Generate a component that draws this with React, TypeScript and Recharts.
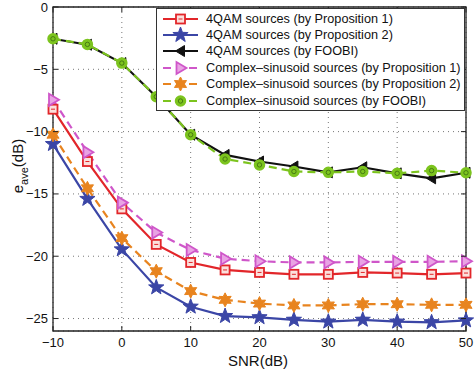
import React from "react";
import {
  LineChart,
  Line,
  XAxis,
  YAxis,
  CartesianGrid,
  ReferenceArea,
  Label,
} from "recharts";

const snr = [-10, -5, 0, 5, 10, 15, 20, 25, 30, 35, 40, 45, 50];
const qamProp1 = [-8.2, -12.4, -16.2, -19.05, -20.5, -21.1, -21.3, -21.45, -21.45, -21.3, -21.35, -21.45, -21.35];
const qamProp2 = [-11.0, -15.4, -19.45, -22.5, -24.05, -24.8, -24.9, -25.1, -25.25, -25.1, -25.25, -25.3, -25.15];
const qamFoobi = [-2.55, -3.03, -4.5, -7.2, -10.25, -11.87, -12.4, -12.8, -13.27, -12.86, -13.35, -13.75, -13.3];
const sinProp1 = [-7.45, -11.65, -15.7, -18.1, -19.5, -20.2, -20.4, -20.5, -20.5, -20.45, -20.45, -20.45, -20.4];
const sinProp2 = [-10.25, -14.55, -18.55, -21.2, -22.8, -23.5, -23.8, -23.95, -23.95, -23.85, -23.85, -23.9, -23.9];
const sinFoobi = [-2.55, -3.0, -4.5, -7.2, -10.25, -12.2, -12.67, -13.2, -13.27, -13.2, -13.35, -13.13, -13.3];

const xTicks = [-10, 0, 10, 20, 30, 40, 50];
const yTicks = [-25, -20, -15, -10, -5, 0];

const legendNames = [
  "4QAM sources (by Proposition 1)",
  "4QAM sources (by Proposition 2)",
  "4QAM sources (by FOOBI)",
  "Complex\u2013sinusoid sources (by Proposition 1)",
  "Complex\u2013sinusoid sources (by Proposition 2)",
  "Complex\u2013sinusoid sources (by FOOBI)",
];

const data = snr.map((s, i) => ({
  snr: s,
  qamProp1: qamProp1[i],
  qamProp2: qamProp2[i],
  qamFoobi: qamFoobi[i],
  sinProp1: sinProp1[i],
  sinProp2: sinProp2[i],
  sinFoobi: sinFoobi[i],
}));

const FONT = "'Liberation Sans', Arial, Helvetica, sans-serif";
const W = 474;
const H = 370;
const PL = 53;
const PR = 466;
const PT = 7;
const PB = 331;

const RED = "#e2262a";
const BLUE = "#3b46a6";
const BLACK = "#111111";
const MAGENTA = "#cf56c9";
const ORANGE = "#e8841f";
const GREEN = "#7cc41e";

function starPath(cx: number, cy: number, n: number, ro: number, ri: number) {
  let d = "";
  for (let k = 0; k < n * 2; k++) {
    const r = k % 2 === 0 ? ro : ri;
    const a = -Math.PI / 2 + (k * Math.PI) / n;
    d += (k === 0 ? "M" : "L") + (cx + r * Math.cos(a)).toFixed(2) + "," + (cy + r * Math.sin(a)).toFixed(2);
  }
  return d + "Z";
}

function Marker({ kind, cx, cy }: { kind: string; cx: number; cy: number }) {
  if (cx == null || cy == null) return null;
  switch (kind) {
    case "square":
      return (
        <g>
          <rect x={cx - 4.5} y={cy - 4.5} width={9} height={9} fill="#fbe0dc" stroke={RED} strokeWidth={1.8} />
          <line x1={cx - 2} x2={cx + 2} y1={cy} y2={cy} stroke={RED} strokeWidth={1} />
        </g>
      );
    case "star5":
      return <path d={starPath(cx, cy, 5, 8, 3.3)} fill={BLUE} stroke={BLUE} strokeWidth={1} />;
    case "triLeft":
      return <path d={`M${cx - 5},${cy} L${cx + 4},${cy - 5.5} L${cx + 4},${cy + 5.5} Z`} fill={BLACK} stroke={BLACK} strokeWidth={1} />;
    case "triRight":
      return (
        <path d={`M${cx + 6},${cy} L${cx - 4},${cy - 6} L${cx - 4},${cy + 6} Z`} fill="#e9a3e4" stroke={MAGENTA} strokeWidth={1.8} />
      );
    case "star6":
      return <path d={starPath(cx, cy, 6, 7, 3.8)} fill={ORANGE} stroke={ORANGE} strokeWidth={1} />;
    case "circle":
      return (
        <g>
          <circle cx={cx} cy={cy} r={5} fill={GREEN} stroke={GREEN} strokeWidth={1.5} />
          <circle cx={cx} cy={cy} r={2.2} fill="none" stroke="#3b6a10" strokeWidth={0.8} />
        </g>
      );
    default:
      return null;
  }
}

const series = [
  { key: "qamProp1", color: RED, dash: undefined, marker: "square" },
  { key: "qamProp2", color: BLUE, dash: undefined, marker: "star5" },
  { key: "qamFoobi", color: BLACK, dash: undefined, marker: "triLeft" },
  { key: "sinProp1", color: MAGENTA, dash: "8 5", marker: "triRight" },
  { key: "sinProp2", color: ORANGE, dash: "8 5", marker: "star6" },
  { key: "sinFoobi", color: GREEN, dash: "8 5", marker: "circle" },
];

function XTick(props: any) {
  const { x, payload } = props;
  return (
    <g>
      <line x1={x} x2={x} y1={PB} y2={PB - 5} stroke="#222" />
      <line x1={x} x2={x} y1={PT} y2={PT + 5} stroke="#222" />
      <text x={x} y={347} textAnchor="middle" fontSize={13} fontFamily={FONT} fill="#111">
        {String(payload.value).replace("-", "\u2212")}
      </text>
    </g>
  );
}

function YTick(props: any) {
  const { y, payload } = props;
  return (
    <g>
      <line x1={PL} x2={PL + 5} y1={y} y2={y} stroke="#222" />
      <line x1={PR - 5} x2={PR} y1={y} y2={y} stroke="#222" />
      <text x={48} y={y + 4.5} textAnchor="end" fontSize={13} fontFamily={FONT} fill="#111">
        {String(payload.value).replace("-", "\u2212")}
      </text>
    </g>
  );
}

function LegendBox() {
  return (
    <div
      style={{
        position: "absolute",
        left: 156,
        top: 8,
        width: 309,
        height: 103,
        boxSizing: "border-box",
        border: "1.5px solid #333",
        background: "#fff",
        fontFamily: FONT,
        fontSize: 12.7,
        color: "#111",
        paddingTop: 1.5,
      }}
    >
      {series.map((s, i) => (
        <div key={s.key} style={{ display: "flex", alignItems: "center", height: 16.4, whiteSpace: "nowrap" }}>
          <svg width={48} height={16} style={{ flex: "none" }}>
            <line x1={6} x2={41} y1={8} y2={8} stroke={s.color} strokeWidth={2} strokeDasharray={s.dash} />
            <Marker kind={s.marker} cx={23.5} cy={8} />
          </svg>
          <span style={{ marginLeft: 1 }}>{legendNames[i]}</span>
        </div>
      ))}
    </div>
  );
}

function YLabel() {
  return (
    <text
      transform="translate(23,166) rotate(-90)"
      textAnchor="middle"
      fontSize={15}
      fontFamily={FONT}
      fill="#111"
    >
      e
      <tspan fontSize={11} dy={5}>ave</tspan>
      <tspan dy={-5}>(dB)</tspan>
    </text>
  );
}

export default function App() {
  return (
    <div style={{ position: "absolute", left: 0, top: 0, width: W, height: H, background: "#fff" }}>
      <LineChart
        width={W}
        height={H}
        data={data}
        margin={{ top: PT, right: W - PR, bottom: 0, left: 0 }}
      >
        <CartesianGrid stroke="#777" strokeDasharray="1 4" strokeWidth={1} />
        <XAxis
          dataKey="snr"
          type="number"
          domain={[-10, 50]}
          ticks={xTicks}
          tick={<XTick />}
          tickLine={false}
          axisLine={false}
          height={H - PB}
          interval={0}
        >
          <Label
            content={() => (
              <text x={258} y={366} textAnchor="middle" fontSize={15} fontFamily={FONT} fill="#111">
                SNR(dB)
              </text>
            )}
          />
        </XAxis>
        <YAxis
          type="number"
          domain={[-26, 0]}
          ticks={yTicks}
          tick={<YTick />}
          tickLine={false}
          axisLine={false}
          width={PL}
          interval={0}
        >
          <Label content={() => <YLabel />} />
        </YAxis>
        <ReferenceArea x1={-10} x2={50} y1={-26} y2={0} fill="none" stroke="#222" strokeWidth={1.3} ifOverflow="visible" />
        {series.map((s) => (
          <Line
            key={s.key}
            dataKey={s.key}
            type="linear"
            stroke={s.color}
            strokeWidth={2.2}
            strokeDasharray={s.dash}
            dot={(p: any) => <Marker key={`${s.key}-${p.index}`} kind={s.marker} cx={p.cx} cy={p.cy} />}
            activeDot={false}
            isAnimationActive={false}
          />
        ))}
      </LineChart>
      <LegendBox />
    </div>
  );
}
